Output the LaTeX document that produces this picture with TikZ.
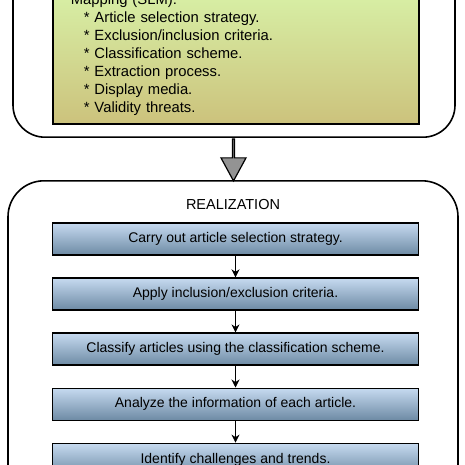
\documentclass[tikz,border=0pt]{standalone}
\usepackage{fontspec}
\setmainfont{Liberation Sans}
\usetikzlibrary{arrows.meta,positioning,shapes.arrows,calc}

\definecolor{steptop}{HTML}{C6DAF0}
\definecolor{stepbottom}{HTML}{6D8AA4}
\definecolor{plantop}{HTML}{D8F2A8}
\definecolor{planbottom}{HTML}{CCC27C}

\tikzset{
  phase/.style={draw=black,line width=1.6pt,rounded corners=32pt},
  stepbox/.style={draw=black,line width=1.6pt,top color=steptop,bottom color=stepbottom,
    minimum width=366pt,minimum height=32pt,inner sep=0pt,font=\fontsize{14}{16}\selectfont},
  planbox/.style={draw=black,line width=1.6pt,top color=plantop,bottom color=planbottom,
    text width=346pt,inner xsep=10pt,inner ysep=8.5pt,align=left,font=\fontsize{14.8}{18}\selectfont}
}

\begin{document}
\begin{tikzpicture}[x=1pt,y=-1pt,>={Stealth[length=8pt,width=8pt]},node distance=21.5pt]

                \useasboundingbox (0,0) rectangle (465,465);
                \clip (0,0) rectangle (465,465);

                % planning phase (cut off at the top)
                \node[phase,minimum width=442pt,minimum height=200pt,anchor=south] (plan) at (234,138) {};

                \node[planbox,anchor=south west] (content) at (52,125)
                    {\hspace*{8pt}Mapping (SLM):\\
                     \hspace*{21pt}* Article selection strategy.\\
                     \hspace*{21pt}* Exclusion/inclusion criteria.\\
                     \hspace*{21pt}* Classification scheme.\\
                     \hspace*{21pt}* Extraction process.\\
                     \hspace*{21pt}* Display media.\\
                     \hspace*{21pt}* Validity threats.};

                % realization phase (cut off at the bottom)
                \node[phase,rounded corners=36pt,minimum width=450pt,minimum height=330pt,anchor=north] (real) at (233,180) {};

                \node[font=\fontsize{14.5}{16}\selectfont] (title) at (233,205) {REALIZATION};

                \node[stepbox] (s1) at (235.5,239) {Carry out article selection strategy.};

                \node[stepbox] (s2) [below=of s1] {Apply inclusion/exclusion criteria.};

                \node[stepbox] (s3) [below=of s2] {Classify articles using the classification scheme.};

                \node[stepbox] (s4) [below=of s3] {Analyze the information of each article.};

                \node[stepbox] (s5) [below=of s4] {Identify challenges and trends.};

                \foreach \from/\to in {s1/s2, s2/s3, s3/s4, s4/s5}
                    {
                    \draw[->,line width=0.8pt] (\from) -- (\to);
                    }

                % big arrow between the phases
                \node[single arrow,draw=black,line width=1.2pt,fill=gray!85,rotate=-90,
                      minimum height=42pt,minimum width=25pt,single arrow head extend=7pt,
                      single arrow tip angle=57,inner sep=0pt] (next)
                      at ($(plan.south)!0.5!(real.north)$) {};

            \end{tikzpicture}
\end{document}
